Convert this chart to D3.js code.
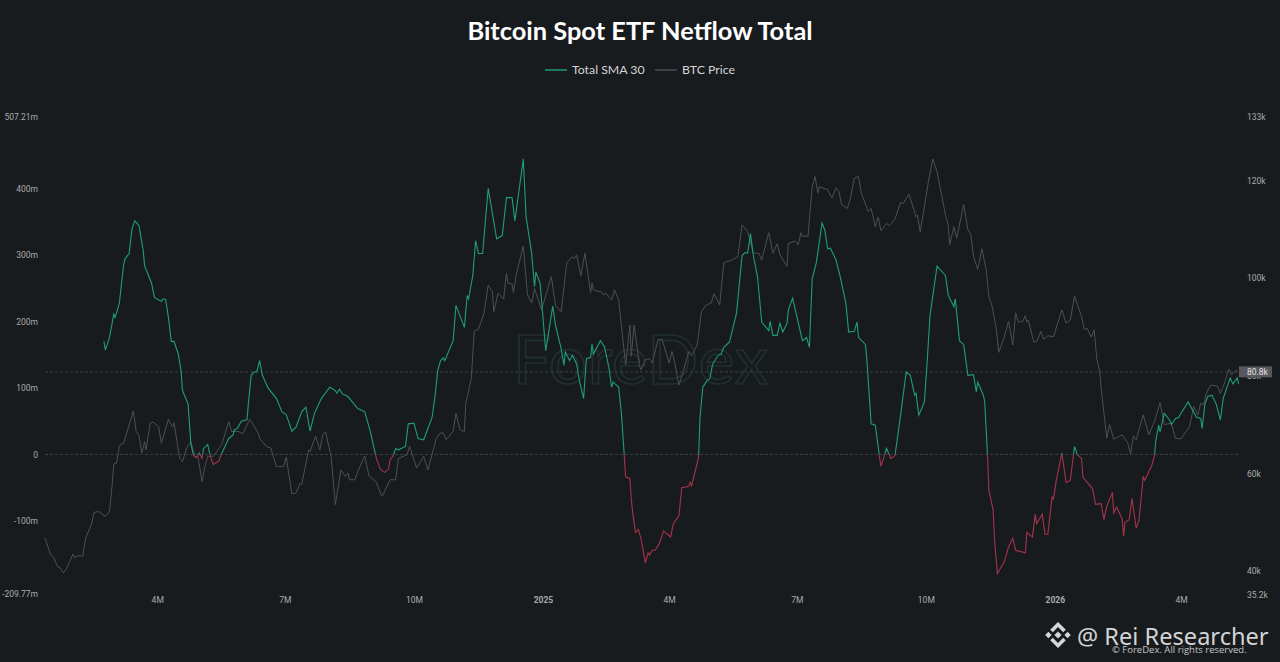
<!DOCTYPE html>
<html>
<head>
<meta charset="utf-8">
<script src="https://cdn.jsdelivr.net/npm/d3@7"></script>
<style>
  html, body { margin: 0; padding: 0; background: #181b1e; overflow: hidden; }
  svg { display: block; }
  text { font-family: "Open Sans", sans-serif; }
  .tick text { fill: #a9abad; font-size: 8.5px; font-family: Roboto, sans-serif; }
</style>
</head>
<body>
<svg id="chart" width="1280" height="662"></svg>
<script>
const firstDay = Date.UTC(2024, 0, 12);

// days counted from firstDay
const smaDays = [42,43,46,48,49,50,53,56,57,60,62,64,67,70,71,76,78,83,84,86,88,90,92,95,97,98,102,104,106,108,110,112,113,116,118,120,124,125,131,134,135,137,140,144,145,147,149,151,153,155,156,159,165,169,172,176,179,183,186,189,192,197,203,207,208,210,212,216,223,228,232,236,239,242,245,246,248,250,252,257,259,263,266,270,273,276,278,280,282,284,285,291,293,299,301,302,305,307,309,312,316,322,326,329,333,335,341,343,347,349,350,353,357,362,364,368,370,371,374,376,379,381,384,386,389,390,391,396,399,402,404,405,409,411,413,414,417,418,419,421,423,425,428,430,431,433,435,438,441,446,448,452,454,459,460,461,466,467,469,472,474,476,480,482,484,488,493,497,499,501,503,505,508,511,516,517,519,522,524,526,529,530,533,535,540,543,545,547,550,554,556,558,560,564,567,571,573,577,579,580,585,586,589,592,595,596,600,603,606,610,614,617,620,621,623,627,629,631,636,642,644,648,649,652,655,658,662,664,665,669,670,672,673,676,677,679,684,687,690,692,699,700,704,706,707,711,713,715,718,719,721,725,728,731,734,736,739,740,747,749,753,755,757,761,762,764,768,769,770,773,775,778,780,783,784,789,791,792,794,795,798,802,803,806,808,815,821,824,825,827,829,832,835,838,840,845,847,850,851];
// million USD
const smaFlow = [170,157,176,199,211,206,227,284,294,302,339,351,344,307,284,257,236,230,234,233,206,170,170,151,126,96,76,16,-2,-5,2,-6,9,15,-4,-15,-10,-3,24,29,37,39,50,52,76,119,124,124,141,119,114,100,84,64,60,35,41,64,71,35,61,84,101,96,92,98,91,87,69,64,34,-4,-22,-27,-22,-8,-3,9,7,12,46,47,24,22,39,56,86,126,141,145,141,171,224,191,239,234,269,321,302,302,400,324,329,386,386,351,444,357,302,252,274,257,156,223,194,159,134,154,141,149,136,111,84,144,146,166,151,171,161,131,101,109,101,61,-2,-34,-36,-67,-87,-117,-113,-127,-163,-148,-151,-144,-144,-134,-115,-124,-104,-92,-50,-48,-42,-47,-4,56,101,111,114,136,149,151,161,169,212,299,303,303,332,299,267,199,186,200,179,179,197,184,197,217,235,217,171,176,161,264,289,348,337,309,310,292,267,227,184,185,199,176,165,141,46,44,-4,-18,9,-6,-2,59,124,119,89,92,59,79,141,209,283,269,239,222,234,171,165,119,120,94,109,89,79,-2,-54,-84,-129,-179,-161,-139,-126,-144,-148,-117,-124,-90,-104,-90,-120,-120,-64,-67,-39,2,-42,-39,12,0,-6,-34,-52,-75,-74,-98,-78,-57,-88,-79,-97,-123,-102,-98,-66,-111,-99,-33,-39,-17,-2,21,44,34,62,51,45,54,55,79,56,54,39,76,87,89,76,52,84,115,106,115,106];

const btcDays = [0,4,6,9,11,13,15,20,21,23,27,29,33,35,38,43,46,48,49,51,53,55,56,63,65,67,69,71,72,75,77,81,83,88,91,92,96,98,101,104,107,109,112,114,116,120,126,131,133,138,141,146,152,153,158,161,165,170,172,176,179,182,183,188,189,193,196,198,200,204,207,211,214,216,217,221,223,228,231,236,240,241,246,250,252,258,260,265,270,273,279,282,284,286,291,293,296,299,300,302,304,306,309,313,316,319,320,323,327,329,330,333,334,336,341,344,347,349,354,361,364,368,372,376,377,379,382,385,389,390,391,397,398,400,404,406,409,414,417,418,420,424,425,428,431,433,437,440,445,447,448,452,455,459,461,465,468,471,475,477,481,484,489,494,497,501,505,509,511,516,519,522,524,529,530,535,537,539,540,544,547,549,551,552,558,561,564,566,568,572,574,577,580,582,587,589,592,594,596,600,602,606,610,612,616,621,622,624,627,630,633,636,639,642,644,645,648,650,655,658,660,662,665,668,671,673,675,678,680,684,687,690,692,694,697,699,700,701,705,707,710,712,715,719,725,728,731,734,739,741,743,746,748,750,752,753,757,759,762,768,772,774,776,778,783,787,791,795,798,803,806,810,816,819,822,824,826,828,831,836,838,841,844,846,850];
// thousand USD
const btcPrice = [46.8,43.3,42.9,40.9,40.6,39.6,40.3,43.5,42.7,43.1,43.1,46.8,49.5,52,52.2,51.2,52.2,58,61.9,62.1,65.5,66.2,66.1,72.8,68.6,67.8,64.2,66.5,64.8,70.3,70.5,69.6,66.2,71.1,69.5,70.4,63.1,62.4,65.2,66.5,63.3,63.5,58.3,61.4,63.5,63.5,65.9,70.6,68.6,68.6,68.1,71.1,68.3,67.2,65.5,65.2,61.4,61.4,63.3,55.8,56,58,57.7,64.8,64.5,67.6,64.8,67.9,68.5,63.5,53.6,60.7,59.4,60.1,58.7,58.7,60.4,63.6,59.5,58.3,55.4,55.6,58.7,58.7,63.1,63.8,65.5,61.1,63.5,60.7,67.2,68.3,68.3,66.9,68.6,72.3,68.9,68.6,74.4,76.8,79.6,89.1,89.5,92.8,98.6,97.2,93.1,96.9,95.7,101,99,98.8,97,100.7,106.6,96.6,94.9,97.9,93.5,100.3,94.4,93.1,103.1,104.4,103.9,104.8,100.5,105.1,97,99,97.6,97.1,96.6,96.9,95.5,97.6,95.5,82.2,90.4,84,90.4,81.9,81.2,83.3,83.5,82.6,87.4,87.4,82.6,85,84,78.1,80.9,85,84.1,86.3,93.1,94.4,94.9,96.8,94.5,103.2,103.6,104.4,110.9,109.5,105.1,105.1,103.7,109.3,105.1,107,104.8,102.4,107.1,107.6,106.8,109.3,108.6,108.6,118.7,120.8,117.4,118.7,118.1,116.4,118.5,117.7,115,114.3,116,120.5,120.8,117.4,113.6,114.3,110.5,112.5,109.7,111.2,110.7,112.1,115.5,115.3,117.2,112.6,112.9,109.5,114.6,120.1,124.4,121.8,117.4,112.9,110.9,106.8,110.5,108.2,115.1,109.9,109,104.4,101.8,106,101.7,96.2,94.5,90.1,84.8,88,91.2,86.3,92.9,91,91.1,92.3,91,91.4,86.9,87,89.1,87.5,88.2,88,93.5,90.8,91.4,96.4,92.1,89.5,89.7,87.9,89.4,83.3,80.9,77.5,67.2,70,67,67.9,66.2,64,67.7,66.9,72,67.9,70.6,74.5,70,70.3,67.2,67.1,69.6,73.7,72,74.4,74,76.4,78.1,77.9,76.4,78.5,81.4,80.2,81.2];

const leftTicks = [-209.77, -100, 0, 100, 200, 300, 400, 507.21];
const leftLabels = ["-209.77m", "-100m", "0", "100m", "200m", "300m", "400m", "507.21m"];
const rightTicks = [35.2, 40, 60, 80, 100, 120, 133];
const rightLabels = ["35.2k", "40k", "60k", "80k", "100k", "120k", "133k"];
const timeTicks = ["2024-04-01", "2024-07-01", "2024-10-01", "2025-01-01", "2025-04-01", "2025-07-01", "2025-10-01", "2026-01-01", "2026-04-01"];
const timeLabels = ["4M", "7M", "10M", "2025", "4M", "7M", "10M", "2026", "4M"];
const lastPrice = 80.8;

const green = "#1f9c7b", red = "#a5344a", grey = "#4d4f52", dashColor = "#3c3f43";

const svg = d3.select("#chart");
const toDate = d => new Date(firstDay + d * 864e5);

const x = d3.scaleUtc().domain([toDate(0), toDate(852)]).range([45, 1240]);
const yFlow = d3.scaleLinear().domain([-209.77, 507.21]).range([594, 117]);
const yPrice = d3.scaleLinear().domain([35.2, 133]).range([594.5, 117]);

svg.append("text").attr("x", 640).attr("y", 40).attr("text-anchor", "middle")
  .style("font-family", "Lato").style("font-size", "25.4px").style("font-weight", 700)
  .attr("fill", "#fff").text("Bitcoin Spot ETF Netflow Total");

// watermark
svg.append("text").attr("x", 641).attr("y", 384).attr("text-anchor", "middle")
  .style("font-family", "Lato").style("font-size", "67px").style("letter-spacing", "1px")
  .attr("fill", "none").attr("stroke", "#22302f").attr("stroke-width", 1.6).text("ForeDex");

// legend
const legend = svg.append("g");
const legendItems = [["Total SMA 30", green, 545], ["BTC Price", grey, 655]];
legendItems.forEach(([name, color, lx]) => {
  legend.append("line").attr("x1", lx).attr("x2", lx + 22).attr("y1", 70).attr("y2", 70)
    .attr("stroke", color).attr("stroke-width", 1.5);
  legend.append("text").attr("x", lx + 27).attr("y", 74)
    .style("font-family", "Lato").style("font-size", "12.3px").attr("fill", "#d4d5d6").text(name);
});

// axes
const axisLeft = d3.axisLeft(yFlow).tickValues(leftTicks).tickSize(0).tickPadding(0)
  .tickFormat((d, i) => leftLabels[i]);
svg.append("g").attr("transform", "translate(38,0)").call(axisLeft).call(g => g.select(".domain").remove());

const axisRight = d3.axisRight(yPrice).tickValues(rightTicks).tickSize(0).tickPadding(0)
  .tickFormat((d, i) => rightLabels[i]);
svg.append("g").attr("transform", "translate(1247,0)").call(axisRight).call(g => g.select(".domain").remove());

const axisBottom = d3.axisBottom(x).tickValues(timeTicks.map(d => new Date(d))).tickSize(0).tickPadding(0)
  .tickFormat((d, i) => timeLabels[i]);
svg.append("g").attr("transform", "translate(0,597)").call(axisBottom)
  .call(g => g.select(".domain").remove())
  .selectAll("text").style("font-weight", (d, i) => timeLabels[i].length === 4 ? 700 : 400);

// zero line and last price line
svg.append("line").attr("x1", 45).attr("x2", 1239).attr("y1", yFlow(0)).attr("y2", yFlow(0))
  .attr("stroke", dashColor).attr("stroke-dasharray", "3 2");
svg.append("line").attr("x1", 45).attr("x2", 1239).attr("y1", yPrice(lastPrice)).attr("y2", yPrice(lastPrice))
  .attr("stroke", dashColor).attr("stroke-dasharray", "3 2");

// clip the flow line at zero to get the two colours
const defs = svg.append("defs");
defs.append("clipPath").attr("id", "above").append("rect")
  .attr("x", 0).attr("y", 0).attr("width", 1280).attr("height", yFlow(0));
defs.append("clipPath").attr("id", "below").append("rect")
  .attr("x", 0).attr("y", yFlow(0)).attr("width", 1280).attr("height", 662 - yFlow(0));

const priceLine = d3.line().x(d => x(toDate(d[0]))).y(d => yPrice(d[1]));
const flowLine = d3.line().x(d => x(toDate(d[0]))).y(d => yFlow(d[1]));

svg.append("path").datum(d3.zip(btcDays, btcPrice)).attr("d", priceLine)
  .attr("fill", "none").attr("stroke", grey).attr("stroke-width", 1);

const flowData = d3.zip(smaDays, smaFlow);
svg.append("path").datum(flowData).attr("d", flowLine).attr("clip-path", "url(#above)")
  .attr("fill", "none").attr("stroke", green).attr("stroke-width", 1.1);
svg.append("path").datum(flowData).attr("d", flowLine).attr("clip-path", "url(#below)")
  .attr("fill", "none").attr("stroke", red).attr("stroke-width", 1.1);

// last price tag
svg.append("rect").attr("x", 1239).attr("y", yPrice(lastPrice) - 5.5).attr("width", 33).attr("height", 11)
  .attr("fill", "#56585b");
svg.append("text").attr("x", 1247).attr("y", yPrice(lastPrice) + 3)
  .style("font-size", "8.5px").style("font-family", "Roboto").attr("fill", "#e2e3e4").text("80.8k");

// credit, bottom right
const logo = svg.append("g").attr("transform", "translate(1058,635)").attr("fill", "#d5d6d7");
const logoShapes = [
  "M0,-3.6L3.6,0L0,3.6L-3.6,0Z",
  "M-9.6,-3.2L-6.4,0L-9.6,3.2L-12.8,0Z",
  "M9.6,-3.2L12.8,0L9.6,3.2L6.4,0Z",
  "M0,-13L7.8,-5.2L5.2,-2.8L0,-8L-5.2,-2.8L-7.8,-5.2Z",
  "M0,13L7.8,5.2L5.2,2.8L0,8L-5.2,2.8L-7.8,5.2Z"
];
logo.selectAll("path").data(logoShapes).enter().append("path").attr("d", d => d);

svg.append("text").attr("x", 1077).attr("y", 645)
  .style("font-family", "Noto Sans").style("font-size", "23.6px").attr("fill", "#d2d3d4").text("@ Rei Researcher");
svg.append("text").attr("x", 1112).attr("y", 653)
  .style("font-size", "9.5px").attr("fill", "#c4c5c6").text("© ForeDex. All rights reserved.");
</script>
</body>
</html>
